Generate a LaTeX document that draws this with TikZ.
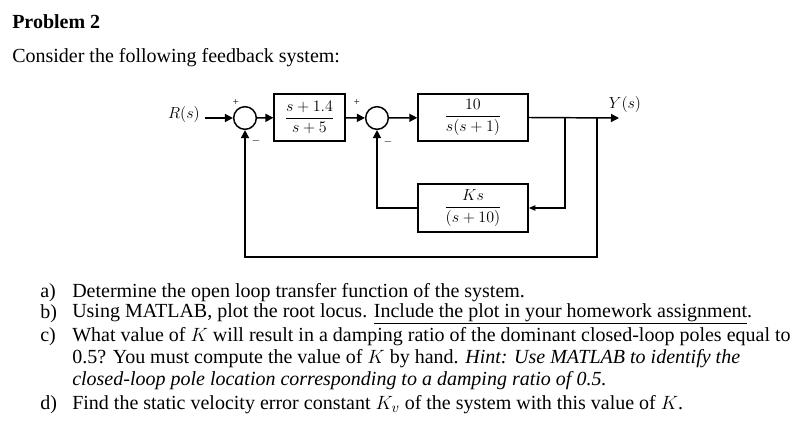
\documentclass[tikz,border=0pt]{standalone}
\usepackage{fontspec}
\setmainfont{Liberation Serif}
\usetikzlibrary{arrows.meta}
\begin{document}
\begin{tikzpicture}[x=0.75pt,y=-0.75pt,
  blk/.style={draw,line width=1.1pt,minimum width=0pt,inner sep=0pt},
  sum/.style={draw,circle,line width=1.1pt,minimum size=17pt,inner sep=0pt},
  sig/.style={line width=1.1pt,-{Triangle[length=6pt,width=6pt]}},
  wire/.style={line width=1.1pt},
  txt/.style={anchor=west,inner sep=0pt,font=\fontsize{15}{17}\selectfont},
  lab/.style={font=\fontsize{11.5}{13}\selectfont,inner sep=0pt},
  sg/.style={font=\fontsize{8}{8}\selectfont,inner sep=0pt}]
\useasboundingbox (0,0) rectangle (793,425);
\fill[white] (0,0) rectangle (793,425);
\node[txt,font=\fontsize{15}{17}\selectfont\bfseries] (t0) at (12,22) {Problem 2};
\node[txt] (t1) at (12,58) {Consider the following feedback system:};
% diagram
\node[sum] (s1) at (245,118) {};
\node[blk,minimum width=53pt,minimum height=35pt] (b1) at (309.5,117.5) {};
\node[lab] (b1t) at (b1) {$\displaystyle\frac{s+1.4}{s+5}$};
\node[sum] (s2) at (377,118) {};
\node[blk,minimum width=82.5pt,minimum height=35pt] (b2) at (473,117.5) {};
\node[lab] (b2t) at (b2) {$\displaystyle\frac{10}{s(s+1)}$};
\node[blk,minimum width=82.5pt,minimum height=36pt] (b3) at (473,208) {};
\node[lab] (b3t) at (b3) {$\displaystyle\frac{Ks}{(s+10)}$};
\node[lab] (R) at (184,114) {$R(s)$};
\node[lab] (Y) at (625,104) {$Y(s)$};
\coordinate (rin) at (205,118);
\coordinate (br1) at (565,118);
\coordinate (br2) at (597,118);
\coordinate (yout) at (619,118);
\coordinate (fb1) at (565,208);
\coordinate (fb2) at (377,208);
\coordinate (lb1) at (597,257);
\coordinate (lb2) at (245,257);
\draw[sig] (rin) -- (s1);
\draw[sig] (s1) -- (b1);
\draw[sig] (b1) -- (s2);
\draw[sig] (s2) -- (b2);
\draw[sig] (b2.east) -- (yout);
\draw[wire,-{Triangle[length=5pt,width=4pt]}] (br1) -- (fb1) -- (b3.east);
\draw[sig] (b3.west) -- (fb2) -- (s2);
\draw[sig] (br2) -- (lb1) -- (lb2) -- (s1);
\node[sg] (p1) at (236,102) {+};
\node[sg] (m1) at (256,141) {$-$};
\node[sg] (p2) at (357,102) {+};
\node[sg] (m2) at (388,142) {$-$};
% questions
\node[txt] (a) at (40,293) {a)};
\node[txt] (at) at (72,293) {Determine the open loop transfer function of the system.};
\node[txt] (b) at (40,314) {b)};
\node[txt] (bt) at (72,314) {Using MATLAB, plot the root locus. \underline{Include the plot in your homework assignment}.};
\node[txt] (c) at (40,337) {c)};
\node[txt] (ct) at (72,337) {What value of $K$ will result in a damping ratio of the dominant closed-loop poles equal to};
\node[txt] (ct2) at (72,359) {0.5? You must compute the value of $K$ by hand. \textit{Hint: Use MATLAB to identify the}};
\node[txt] (ct3) at (72,381) {\textit{closed-loop pole location corresponding to a damping ratio of 0.5.}};
\node[txt] (d) at (40,405) {d)};
\node[txt] (dt) at (72,405) {Find the static velocity error constant $K_v$ of the system with this value of $K$.};
\end{tikzpicture}
\end{document}
